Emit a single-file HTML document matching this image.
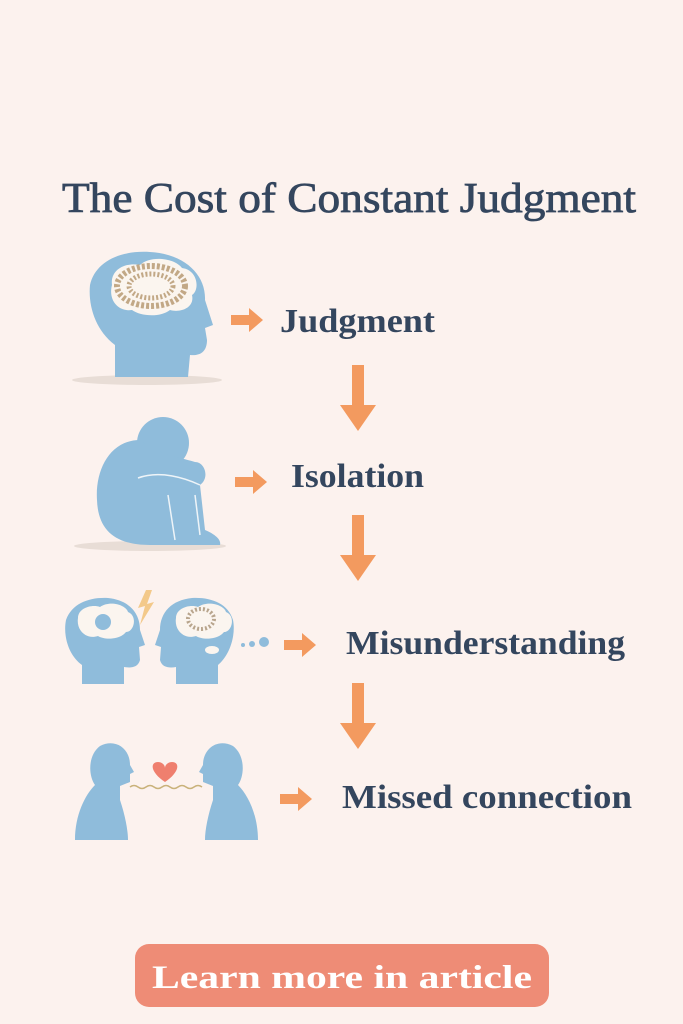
<!DOCTYPE html>
<html><head><meta charset="utf-8"><style>
html,body{margin:0;padding:0;background:#fcf2ee;}
svg{display:block}
</style></head><body>
<svg width="683" height="1024" viewBox="0 0 683 1024" xmlns="http://www.w3.org/2000/svg">
<defs>
<g id="ra"><path d="M0,-5 L18,-5 L18,-12 L32,0 L18,12 L18,5 L0,5 Z" fill="#f39a5f"/></g>
<g id="da"><path d="M-6,0 L6,0 L6,40 L18,40 L0,66 L-18,40 L-6,40 Z" fill="#f39a5f"/></g>
</defs>
<rect width="683" height="1024" fill="#fcf2ee"/>
<text x="62" y="212" font-family="Liberation Serif, serif" font-size="42" fill="#34465e" stroke="#34465e" stroke-width="0.8" textLength="574" lengthAdjust="spacingAndGlyphs">The Cost of Constant Judgment</text>

<!-- row1 head -->
<ellipse cx="147" cy="380" rx="75" ry="5" fill="#e8ddd6"/>
<path d="M115,377 L115,345 C95,330 88,305 90,285 C95,262 120,250 150,252 C185,254 206,275 205,300 L213,325 L205,328 L207,340 C207,352 200,356 190,355 L188,377 Z" fill="#8fbcdb"/>
<path d="M112,285 C110,270 125,262 140,265 C150,255 175,258 182,268 C198,270 200,290 192,295 C195,308 180,313 170,310 C160,318 140,316 132,310 C118,312 108,300 112,285 Z" fill="#fbf5ef"/>
<ellipse cx="151" cy="286" rx="34" ry="20" fill="none" stroke="#c2a886" stroke-width="6" stroke-dasharray="3 2"/>
<ellipse cx="151" cy="286" rx="22" ry="12" fill="none" stroke="#c2a886" stroke-width="5" stroke-dasharray="2 2"/>
<use href="#ra" x="231" y="320"/>
<text x="280" y="332" font-family="Liberation Serif, serif" font-weight="bold" font-size="34" fill="#34465e" textLength="155" lengthAdjust="spacingAndGlyphs">Judgment</text>
<use href="#da" x="358" y="365"/>

<!-- row2 sitting -->
<ellipse cx="150" cy="546" rx="76" ry="5" fill="#e8ddd6"/>
<circle cx="163" cy="443" r="26" fill="#8fbcdb"/>
<path d="M140,440 C110,440 95,470 97,500 C98,530 115,545 150,545 L220,545 C222,538 210,532 205,530 L200,485 C210,478 205,462 195,462 C175,456 160,455 140,440 Z" fill="#8fbcdb"/>
<path d="M138,478 C160,470 185,478 200,485 M168,495 L175,540 M195,495 L200,535" stroke="#eef4f8" stroke-width="1.5" fill="none"/>
<use href="#ra" x="235" y="482"/>
<text x="291" y="487" font-family="Liberation Serif, serif" font-weight="bold" font-size="34" fill="#34465e" textLength="133" lengthAdjust="spacingAndGlyphs">Isolation</text>
<use href="#da" x="358" y="515"/>

<!-- row3 heads -->
<path d="M82,684 L82,665 C68,655 63,635 66,620 C72,603 90,597 108,598 C128,600 140,612 140,630 L145,645 L139,647 L140,660 C138,668 130,668 124,667 L124,684 Z" fill="#8fbcdb"/>
<path d="M78,618 C78,608 92,604 100,607 C110,600 126,605 128,612 C138,616 134,632 126,632 C120,640 104,640 98,636 C86,640 76,630 78,618 Z" fill="#fbf5ef"/>
<circle cx="103" cy="622" r="8" fill="#8fbcdb"/>
<path d="M146,590 L138,608 L145,606 L140,625 L154,602 L147,604 L152,590 Z" fill="#f3c98a"/>
<path d="M218,684 L218,665 C230,655 236,635 233,620 C228,603 210,597 192,598 C172,600 160,612 160,630 L155,645 L161,647 L160,660 C162,668 170,668 176,667 L176,684 Z" fill="#8fbcdb"/>
<path d="M176,618 C176,608 190,604 198,607 C208,600 224,605 226,612 C236,616 232,632 224,632 C218,640 202,640 196,636 C184,640 174,630 176,618 Z" fill="#fbf5ef"/>
<ellipse cx="201" cy="619" rx="13" ry="10" fill="none" stroke="#b8a58d" stroke-width="4" stroke-dasharray="2 2"/>
<ellipse cx="212" cy="650" rx="7" ry="4" fill="#fbf5ef"/>
<circle cx="243" cy="645" r="2" fill="#8fbcdb"/><circle cx="252" cy="644" r="3" fill="#8fbcdb"/><circle cx="264" cy="642" r="5" fill="#8fbcdb"/>
<use href="#ra" x="284" y="645" transform="translate(0,0)"/>
<text x="346" y="654" font-family="Liberation Serif, serif" font-weight="bold" font-size="34" fill="#34465e" textLength="279" lengthAdjust="spacingAndGlyphs">Misunderstanding</text>
<use href="#da" x="358" y="683"/>

<!-- row4 -->
<path d="M75,840 C75,815 85,795 95,785 C88,775 88,755 100,746 C115,738 130,748 130,765 L134,772 L130,774 L130,782 L120,786 L120,800 C125,815 128,830 128,840 Z" fill="#8fbcdb"/>
<path d="M258,840 C258,815 248,795 238,785 C245,775 245,755 233,746 C218,738 203,748 203,765 L199,772 L203,774 L203,782 L213,786 L213,800 C208,815 205,830 205,840 Z" fill="#8fbcdb"/>
<path d="M130,787 q4,-3 8,0 t8,0 t8,0 t8,0 t8,0 t8,0 t8,0 t8,0 t8,0" fill="none" stroke="#c9b27a" stroke-width="1.5"/>
<path d="M165,782 C150,772 150,762 158,762 C162,762 165,765 165,768 C165,765 168,762 172,762 C180,762 180,772 165,782 Z" fill="#ef7f6e"/>
<use href="#ra" x="280" y="799"/>
<text x="342" y="808" font-family="Liberation Serif, serif" font-weight="bold" font-size="34" fill="#34465e" textLength="290" lengthAdjust="spacingAndGlyphs">Missed connection</text>

<rect x="135" y="944" width="414" height="63" rx="14" fill="#ee8c76"/>
<text x="342" y="988" text-anchor="middle" font-family="Liberation Serif, serif" font-weight="bold" font-size="33" fill="#ffffff" textLength="380" lengthAdjust="spacingAndGlyphs">Learn more in article</text>
</svg>
</body></html>
